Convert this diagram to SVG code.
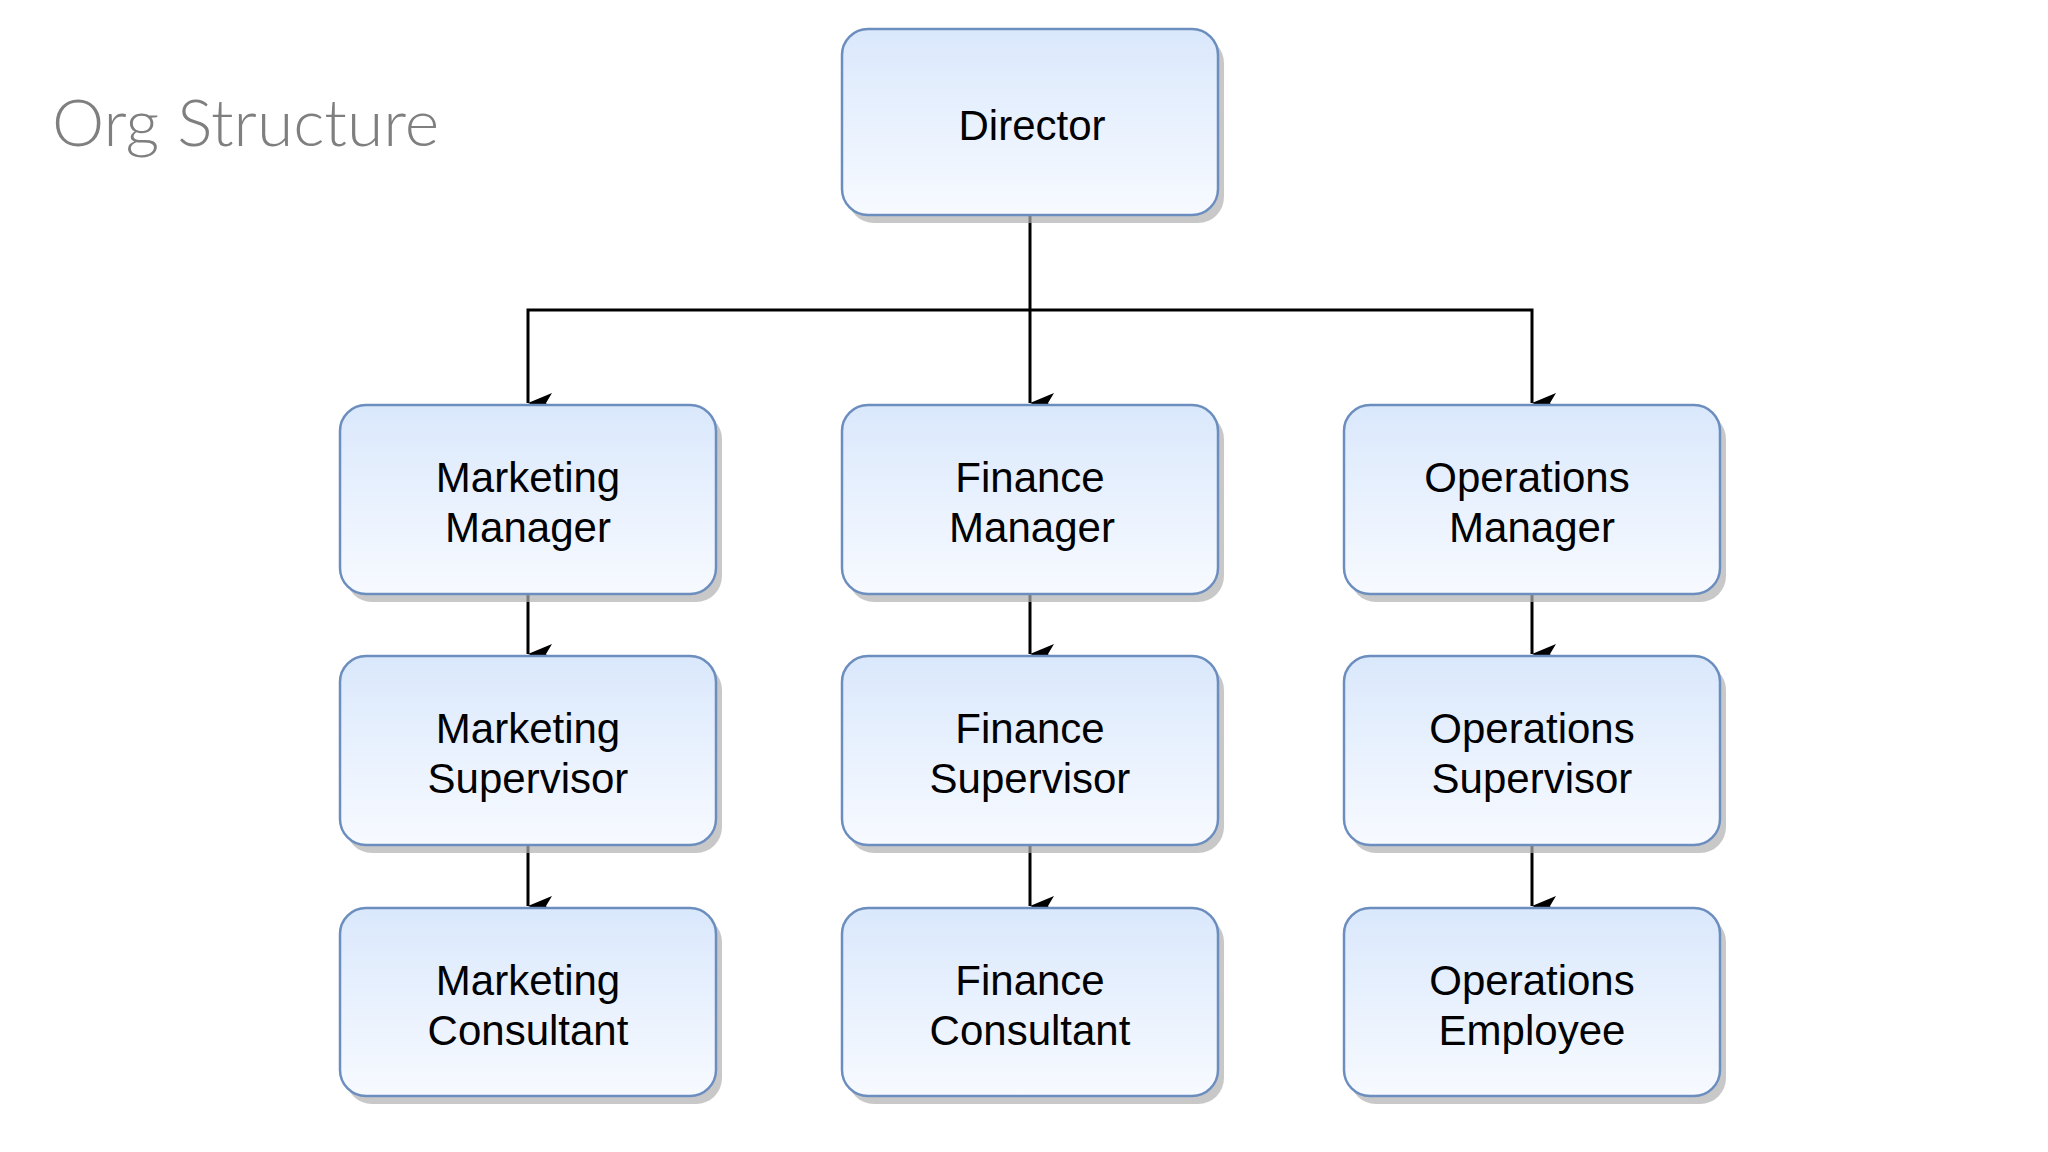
<svg xmlns="http://www.w3.org/2000/svg" width="2048" height="1152" viewBox="0 0 2048 1152">
<defs>
<linearGradient id="g" x1="0" y1="0" x2="0" y2="1"><stop offset="0" stop-color="#dae8fc"/><stop offset="1" stop-color="#f7faff"/></linearGradient>
<marker id="a" viewBox="0 0 20 24" refX="10" refY="24" markerWidth="20" markerHeight="24" markerUnits="userSpaceOnUse" orient="auto-start-reverse"><path d="M0,0 L10,24 L20,0 L10,6 Z" fill="#000"/></marker>
</defs>
<style>
.sh{fill:#b0b0b0;opacity:0.7}
.b{fill:url(#g);stroke:#6c8ebf;stroke-width:2.5}
.t{font-family:"Liberation Sans",Arial,sans-serif;font-size:42px;fill:#000;text-anchor:middle}
.c{fill:none;stroke:#000;stroke-width:3}
</style>
<rect width="2048" height="1152" fill="#fff"/>
<text x="52" y="146" font-family="Lato, 'Open Sans', sans-serif" font-weight="300" font-size="66" fill="#7f7f7f">Org Structure</text>
<g id="connectors">
<path class="c" d="M1030 215 V403" marker-end="url(#a)"/>
<path class="c" d="M528 403 V310 H1532 V403" marker-end="url(#a)" marker-start="url(#a)"/>
<path class="c" d="M528 594 V654" marker-end="url(#a)"/>
<path class="c" d="M1030 594 V654" marker-end="url(#a)"/>
<path class="c" d="M1532 594 V654" marker-end="url(#a)"/>
<path class="c" d="M528 845 V906" marker-end="url(#a)"/>
<path class="c" d="M1030 845 V906" marker-end="url(#a)"/>
<path class="c" d="M1532 845 V906" marker-end="url(#a)"/>
</g>
<g id="director"><rect class="sh" x="848" y="37" width="376" height="186" rx="26"/><rect class="b" x="842" y="29" width="376" height="186" rx="26"/><text class="t" x="1032" y="140">Director</text></g>
<g id="mm"><rect class="sh" x="346" y="413" width="376" height="189" rx="26"/><rect class="b" x="340" y="405" width="376" height="189" rx="26"/><text class="t" x="528" y="492">Marketing</text><text class="t" x="528" y="542">Manager</text></g>
<g id="fm"><rect class="sh" x="848" y="413" width="376" height="189" rx="26"/><rect class="b" x="842" y="405" width="376" height="189" rx="26"/><text class="t" x="1030" y="492">Finance</text><text class="t" x="1032" y="542">Manager</text></g>
<g id="om"><rect class="sh" x="1350" y="413" width="376" height="189" rx="26"/><rect class="b" x="1344" y="405" width="376" height="189" rx="26"/><text class="t" x="1527" y="492">Operations</text><text class="t" x="1532" y="542">Manager</text></g>
<g id="ms"><rect class="sh" x="346" y="664" width="376" height="189" rx="26"/><rect class="b" x="340" y="656" width="376" height="189" rx="26"/><text class="t" x="528" y="743">Marketing</text><text class="t" x="528" y="793">Supervisor</text></g>
<g id="fs"><rect class="sh" x="848" y="664" width="376" height="189" rx="26"/><rect class="b" x="842" y="656" width="376" height="189" rx="26"/><text class="t" x="1030" y="743">Finance</text><text class="t" x="1030" y="793">Supervisor</text></g>
<g id="os"><rect class="sh" x="1350" y="664" width="376" height="189" rx="26"/><rect class="b" x="1344" y="656" width="376" height="189" rx="26"/><text class="t" x="1532" y="743">Operations</text><text class="t" x="1532" y="793">Supervisor</text></g>
<g id="mc"><rect class="sh" x="346" y="916" width="376" height="188" rx="26"/><rect class="b" x="340" y="908" width="376" height="188" rx="26"/><text class="t" x="528" y="995">Marketing</text><text class="t" x="528" y="1045">Consultant</text></g>
<g id="fc"><rect class="sh" x="848" y="916" width="376" height="188" rx="26"/><rect class="b" x="842" y="908" width="376" height="188" rx="26"/><text class="t" x="1030" y="995">Finance</text><text class="t" x="1030" y="1045">Consultant</text></g>
<g id="oe"><rect class="sh" x="1350" y="916" width="376" height="188" rx="26"/><rect class="b" x="1344" y="908" width="376" height="188" rx="26"/><text class="t" x="1532" y="995">Operations</text><text class="t" x="1532" y="1045">Employee</text></g>
</svg>
